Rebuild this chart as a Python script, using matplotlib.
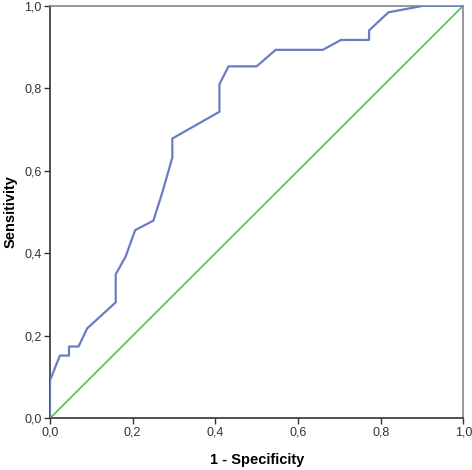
import matplotlib
matplotlib.use("Agg")
import matplotlib.pyplot as plt

# ROC curve points
fpr = [0.0, 0.0, 0.024, 0.046, 0.046, 0.069, 0.090, 0.159, 0.159, 0.183,
       0.206, 0.250, 0.272, 0.296, 0.296, 0.410, 0.410, 0.432, 0.500, 0.546,
       0.660, 0.704, 0.772, 0.772, 0.819, 0.904, 1.0]
tpr = [0.0, 0.092, 0.152, 0.152, 0.174, 0.174, 0.218, 0.281, 0.349, 0.392,
       0.456, 0.479, 0.548, 0.632, 0.678, 0.743, 0.810, 0.853, 0.853, 0.893,
       0.893, 0.917, 0.917, 0.940, 0.984, 1.0, 1.0]
ref_line = [0.0, 1.0]
ticks = [0.0, 0.2, 0.4, 0.6, 0.8, 1.0]
tick_labels = ["0,0", "0,2", "0,4", "0,6", "0,8", "1,0"]

plt.rcParams['font.family'] = ['Liberation Sans', 'DejaVu Sans']

fig = plt.figure(figsize=(4.72, 4.70), dpi=100)
ax = fig.add_axes([50 / 472, (470 - 418.3) / 470, 413.3 / 472, 412.6 / 470])

ax.plot(ref_line, ref_line, color="#5cc55c", lw=1.3, zorder=2)
ax.plot(fpr, tpr, color="#6a7cc4", lw=1.6, zorder=3)

ax.set_xlim(0, 1)
ax.set_ylim(0, 1)
ax.set_xticks(ticks)
ax.set_xticklabels(tick_labels)
ax.set_yticks(ticks)
ax.set_yticklabels(tick_labels)
ax.tick_params(direction="out", length=4, width=1, colors="#333333",
               labelsize=9, pad=2)

for side in ["left", "bottom"]:
    ax.spines[side].set_color("#333333")
    ax.spines[side].set_linewidth(1.2)
for side in ["top", "right"]:
    ax.spines[side].set_color("#888888")
    ax.spines[side].set_linewidth(1.2)

ax.set_xlabel("1 - Specificity", fontsize=10.5, fontweight="bold", labelpad=10)
ax.set_ylabel("Sensitivity", fontsize=10.5, fontweight="bold", labelpad=5)

fig.savefig("out.png", dpi=100)
